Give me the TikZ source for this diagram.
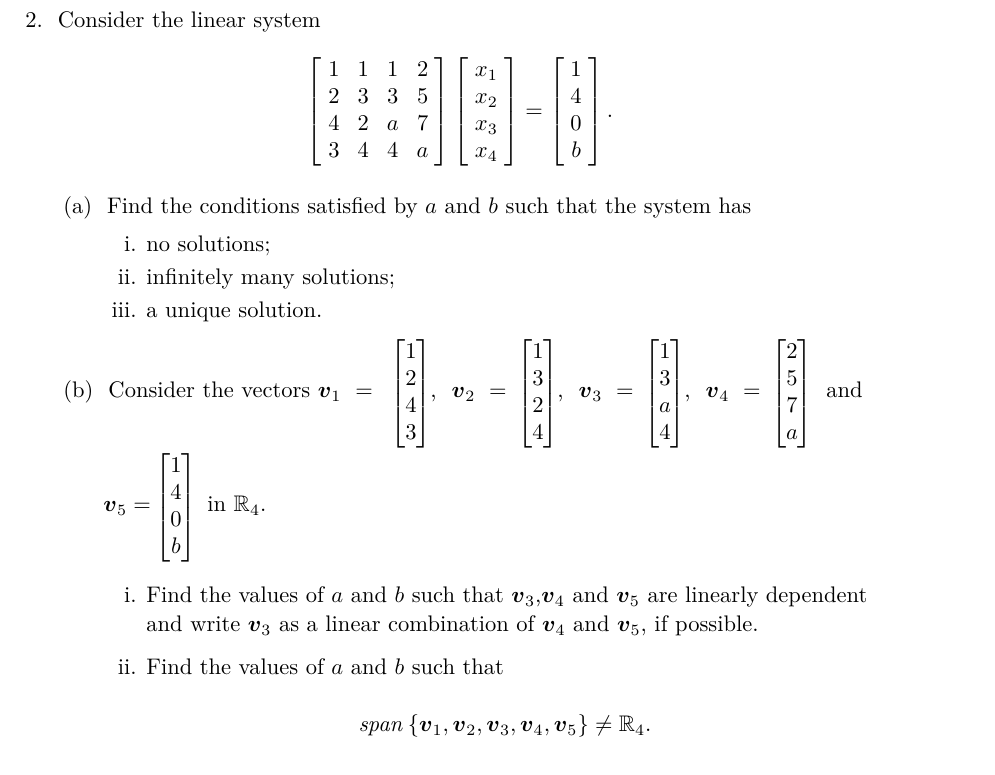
\documentclass[tikz,border=0pt]{standalone}
\usepackage{amsmath,amssymb}
\newcommand{\bv}[1]{\boldsymbol{v}_{#1}}
\newcommand{\tvec}[4]{{\setlength{\arraycolsep}{1.2pt}\begin{bmatrix}#1\\#2\\#3\\#4\end{bmatrix}}}
\begin{document}
\begin{tikzpicture}[x=0.444pt,y=-0.444pt,
  txt/.style={anchor=base west,inner sep=0pt},
  lbl/.style={anchor=base east,inner sep=0pt},
  vecn/.style={inner sep=0pt}]
\useasboundingbox (0,0) rectangle (995,775);
\node[txt] (t1) at (25,28) {2.\ \ Consider the linear system};
\node[vecn] (eq) at (460,112) {$\setlength{\arraycolsep}{4pt}\left[\;\begin{matrix}1&1&1&2\\2&3&3&5\\4&2&a&7\\3&4&4&a\end{matrix}\;\right]
\left[\;\begin{matrix}x_1\\x_2\\x_3\\x_4\end{matrix}\;\right]=\left[\;\begin{matrix}1\\4\\0\\b\end{matrix}\;\right].$};
\node[txt] (pa) at (63,214) {(a)\ \ Find the conditions satisfied by $a$ and $b$ such that the system has};
\node[lbl] (l1) at (137,252) {i.};
\node[txt] (a1) at (146,252) {no solutions;};
\node[lbl] (l2) at (137,285) {ii.};
\node[txt] (a2) at (146,285) {infinitely many solutions;};
\node[lbl] (l3) at (137,318) {iii.};
\node[txt] (a3) at (146,318) {a unique solution.};
\node[txt] (pb) at (63,398) {(b)\ \ Consider the vectors $\bv1\ =$};
\node[vecn] (v1) at (411,394) {$\tvec1243$};
\node[txt] (c1) at (430,398) {,\ \ $\bv2\ =$};
\node[vecn] (v2) at (538,394) {$\tvec1324$};
\node[txt] (c2) at (557,398) {,\ \ $\bv3\ =$};
\node[vecn] (v3) at (665,394) {$\tvec13a4$};
\node[txt] (c3) at (684,398) {,\ \ $\bv4\ =$};
\node[vecn] (v4) at (792,394) {$\tvec257a$};
\node[txt] (and) at (826,398) {and};
\node[txt] (v5l) at (103,512) {$\bv5=$};
\node[vecn] (v5) at (176,508) {$\tvec140b$};
\node[txt] (inr) at (207,512) {in $\mathbb{R}_4$.};
\node[lbl] (l4) at (137,603) {i.};
\node[txt] (b1) at (146,603) {Find the values of $a$ and $b$ such that $\bv3$,$\bv4$ and $\bv5$ are linearly dependent};
\node[txt] (b1b) at (146,632) {and write $\bv3$ as a linear combination of $\bv4$ and $\bv5$, if possible.};
\node[lbl] (l5) at (137,675) {ii.};
\node[txt] (b2) at (146,675) {Find the values of $a$ and $b$ such that};
\node[anchor=base,inner sep=0pt] (sp) at (505,732) {$\mathit{span}\,\{\bv1,\bv2,\bv3,\bv4,\bv5\}\neq\mathbb{R}_4.$};
\end{tikzpicture}
\end{document}
